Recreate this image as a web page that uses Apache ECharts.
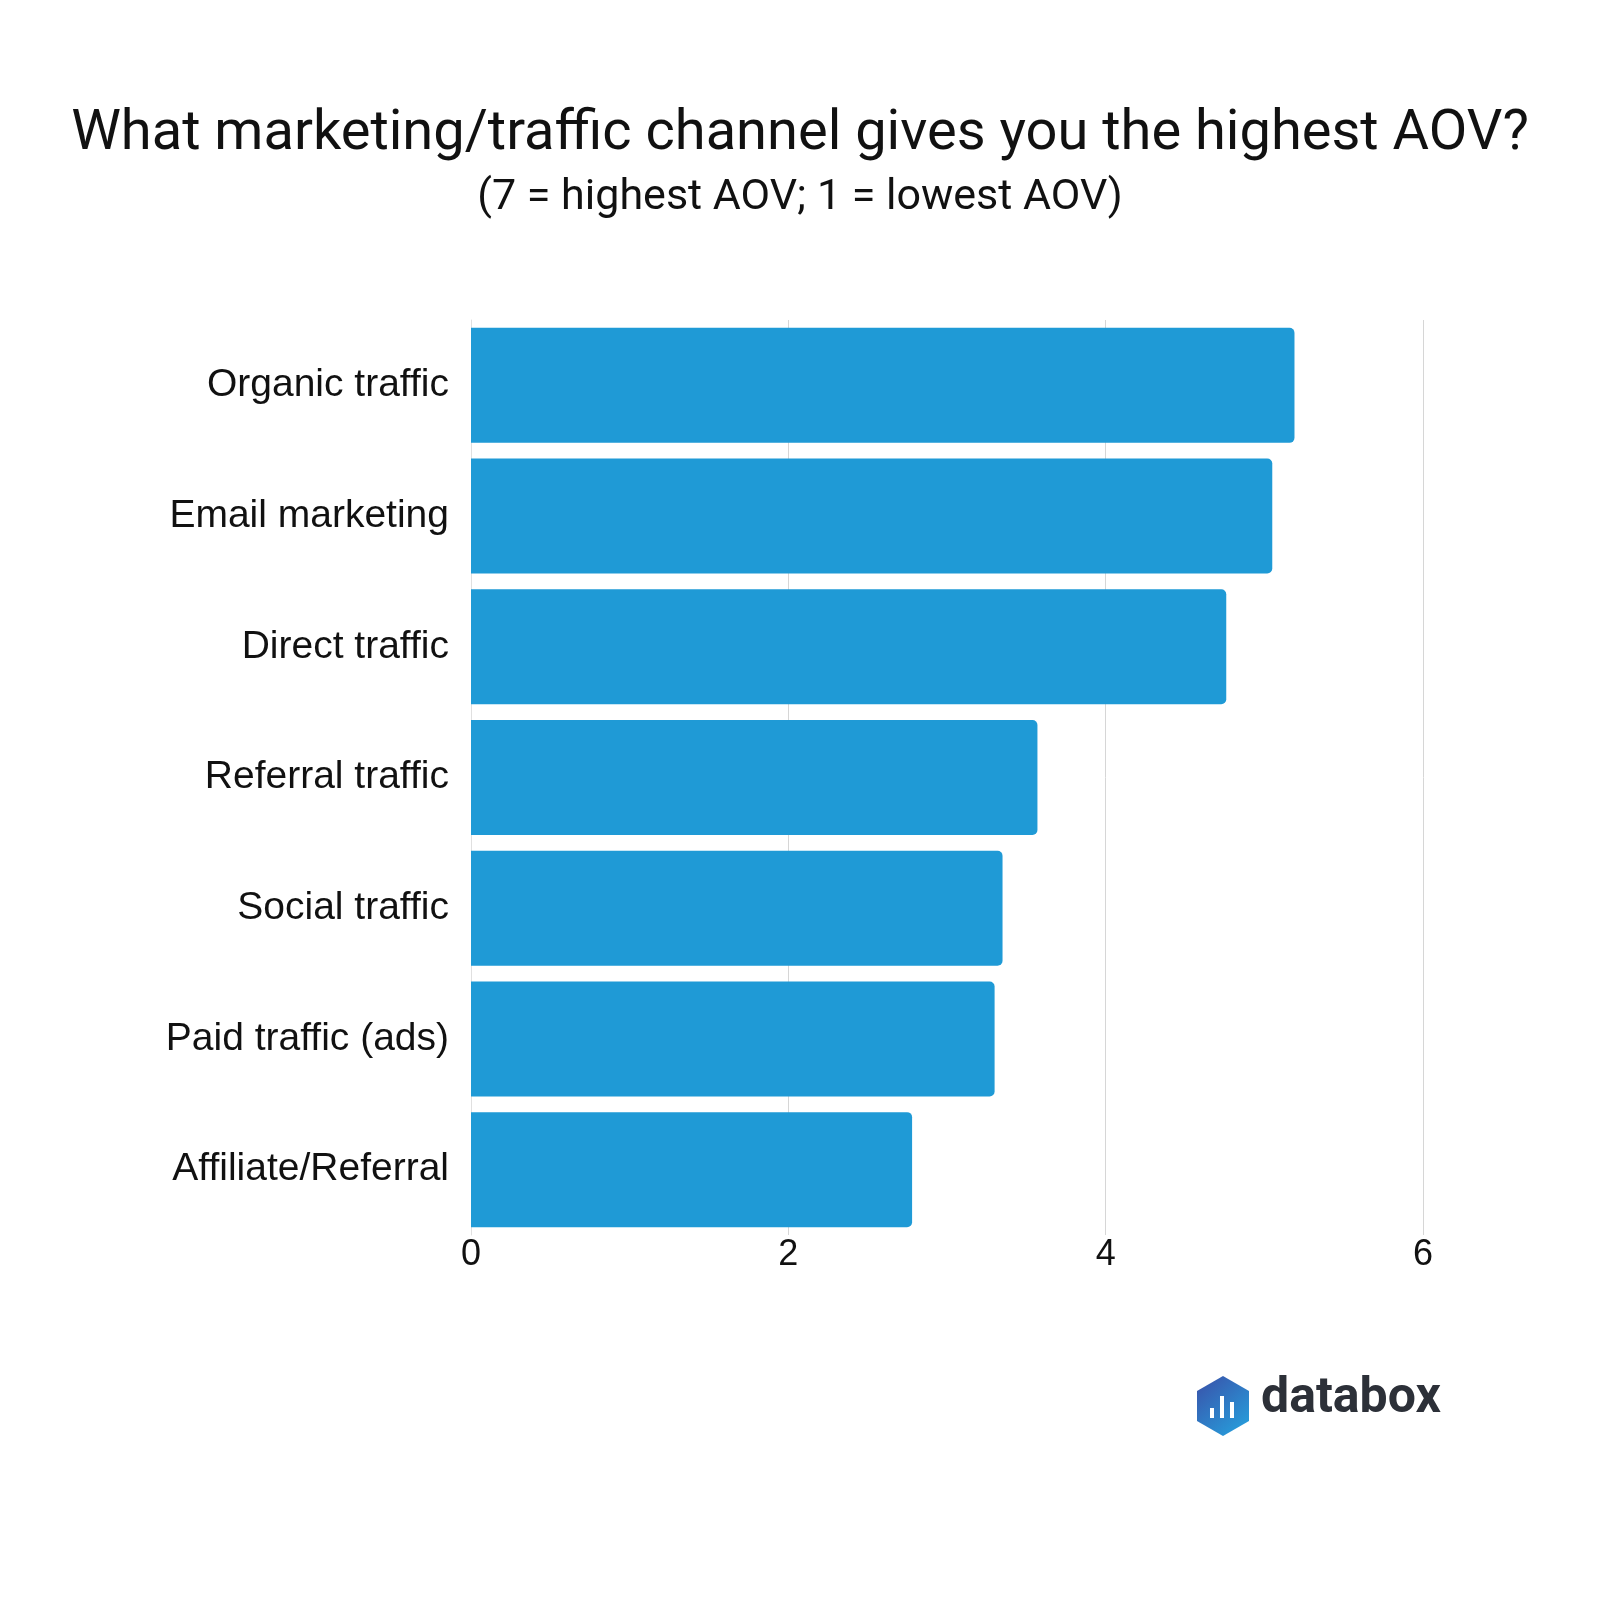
<!DOCTYPE html>
<html>
<head>
<meta charset="utf-8">
<script src="https://cdn.jsdelivr.net/npm/echarts@6/dist/echarts.min.js"></script>
<style>html,body{margin:0;background:#fff}#chart{width:1600px;height:1600px}</style>
</head>
<body>
<div id="chart"></div>
<script>
const categories = ["Organic traffic", "Email marketing", "Direct traffic", "Referral traffic", "Social traffic", "Paid traffic (ads)", "Affiliate/Referral"];
const values = [5.19, 5.05, 4.76, 3.57, 3.35, 3.30, 2.78];
const xTicks = [0, 2, 4, 6];

const cx = 1223, cy = 1406;
const chart = echarts.init(document.getElementById("chart"));
chart.setOption({
  backgroundColor: "#fff",
  textStyle: { fontFamily: "Roboto" },
  title: {
    text: "What marketing/traffic channel gives you the highest AOV?",
    subtext: "(7 = highest AOV; 1 = lowest AOV)",
    left: "center",
    top: 102,
    itemGap: 14,
    textStyle: { fontSize: 56, fontWeight: "normal", color: "#111" },
    subtextStyle: { fontSize: 43, color: "#111" },
  },
  grid: { left: 471, right: 177, top: 320, bottom: 365, containLabel: false },
  xAxis: {
    type: "value",
    min: xTicks[0],
    max: xTicks[xTicks.length - 1],
    interval: 2,
    axisLine: { show: false },
    axisTick: { show: false },
    axisLabel: { fontSize: 36, color: "#111", margin: 2, fontFamily: "Liberation Sans" },
    splitLine: { lineStyle: { color: "#d6d6d6", width: 1 } },
  },
  yAxis: {
    type: "category",
    inverse: true,
    data: categories,
    axisLine: { show: true, lineStyle: { color: "#e0e0e0" } },
    axisTick: { show: false },
    axisLabel: { fontSize: 39, color: "#111", margin: 22, fontFamily: "Liberation Sans" },
  },
  series: [{
    type: "bar",
    data: values,
    barCategoryGap: "12%",
    itemStyle: { color: "#1f9ad6", borderRadius: [0, 5, 5, 0] },
  }],
  graphic: [
    {
      type: "polygon",
      shape: { points: [[cx, cy - 30], [cx + 26, cy - 15], [cx + 26, cy + 15], [cx, cy + 30], [cx - 26, cy + 15], [cx - 26, cy - 15]] },
      style: {
        fill: new echarts.graphic.LinearGradient(0, 0, 1, 1, [
          { offset: 0, color: "#3a4fa8" }, { offset: 1, color: "#25a5e0" },
        ]),
      },
    },
    { type: "rect", shape: { x: cx - 13, y: cy + 2, width: 4, height: 10 }, style: { fill: "#fff" } },
    { type: "rect", shape: { x: cx - 3, y: cy - 10, width: 4, height: 22 }, style: { fill: "#fff" } },
    { type: "rect", shape: { x: cx + 7, y: cy - 4, width: 4, height: 16 }, style: { fill: "#fff" } },
    {
      type: "text", left: 1261, top: 1374,
      style: { text: "databox", fontSize: 50, fontWeight: "bold", fill: "#2c3038", fontFamily: "Roboto" },
    },
  ],
});
</script>
</body>
</html>
